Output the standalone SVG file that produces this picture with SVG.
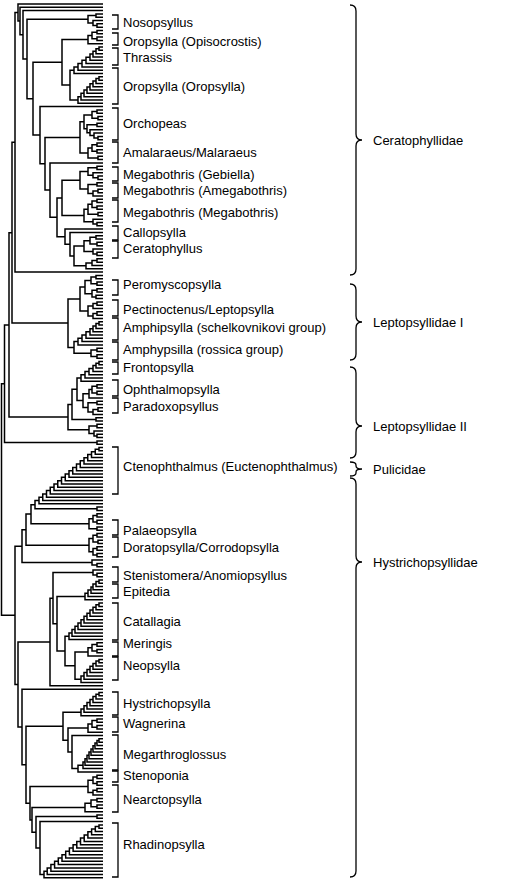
<svg xmlns="http://www.w3.org/2000/svg" width="520" height="881" viewBox="0 0 520 881">
<style>
.t{stroke:#000;stroke-width:1.5;fill:none;vector-effect:non-scaling-stroke}
.b{stroke:#000;stroke-width:1.3;fill:none}
text{font-family:"Liberation Sans",Arial,sans-serif;font-size:13px;fill:#000}
</style>
<rect width="520" height="881" fill="#fff"/>
<g id="connectors" transform="translate(0,4) scale(1,3.31)">
<path class="t" d="M103 3H96V4H103M103 6H97V7H103M103 5H93V6.5H97M96 3.5H88V5.75H93"/>
<path class="t" d="M103 8H97V9H103M103 10H97V11H103M97 8.5H92V10.5H97M92 9.5H88V12H103"/>
<path class="t" d="M103 13H99V14H103M103 15H96V13.5H99M103 16H93V14.25H96M103 17H90V15.1H93M103 18H86V16.05H90M103 19H82V17H86M103 20H78V18H82M103 21H74V19H78"/>
<path class="t" d="M103 22H99V23H103M103 24H96V22.5H99M103 25H93V23.25H96M103 26H90V24.1H93M103 27H87V25.05H90M103 28H84V26H87M103 29H81V27H84M103 30H78V28H81"/>
<path class="t" d="M74 20H70V29H78M88 10.75H62V24.5H70"/>
<path class="t" d="M103 32H97V33H103M103 34H98V35H103M97 32.5H92V34.5H98M103 36H97V37H103M103 40H98V41H103M103 39H94V40.5H98M103 38H90V39.75H94M97 36.5H87V38.9H90M92 33.5H84V37.7H87"/>
<path class="t" d="M103 42H97V43H103M103 44H97V45H103M97 42.5H92V44.5H97M103 46H98V47H103M92 43.5H88V46.5H98M84 35.6H80V45H88"/>
<path class="t" d="M103 49H97V50H103M103 52H98V53H103M103 51H93V52.5H98M97 49.5H88V51.75H93M103 54H97V55H103M103 56H98V57H103M98 56.5H93V58H103M97 54.5H88V57.25H93M88 50.6H80V55.9H88"/>
<path class="t" d="M103 59H97V60H103M103 61H97V62H103M97 59.5H92V61.5H97M103 63H98V64H103M92 60.5H88V63.5H98M103 66H97V67H103M103 65H93V66.5H97M88 62H84V65.75H93M80 53.25H62V63.9H84"/>
<path class="t" d="M103 70H96V71H103M103 72H97V73H103M96 70.5H90V72.5H97M103 75H97V76H103M103 74H93V75.5H97M90 71.5H84V74.75H93M103 77H97V78H103M103 79H92V77.5H97M103 80H86V78.25H92"/>
<path class="t" d="M84 73.1H74V79.1H86M103 69H70V76.1H74M103 68H65V72.55H70M62 58.6H57V70.3H65M103 48H50V64.45H57M80 40.3H45V56.2H50M103 31H40V48.25H45M62 17.6H33V39.6H40M88 4.6H27V28.6H33M103 2H23V16.6H27M103 1H20V9.3H23M103 0H18V5.15H20M18 2.6H15V81H103"/>
<path class="t" d="M103 82H96V83H103M103 84H97V85H103M96 82.5H91V84.5H97M103 86H97V87H103M103 88H96V89H103M97 86.5H92V88.5H96M91 83.5H85V87.5H92"/>
<path class="t" d="M103 90H97V91H103M97 90.5H93V92H103M103 93H97V94H103M97 93.5H93V95H103M93 91.25H88V94.25H93M85 85.5H80V92.75H88"/>
<path class="t" d="M103 96H99V97H103M103 98H96V96.5H99M103 99H93V97.25H96M103 100H90V98.1H93M103 101H86V99.05H90M103 102H82V100H86M103 103H78V101H82M103 104H97V105H103M103 106H97V107H103M97 104.5H91V106.5H97M78 102H74V105.5H91M80 89.1H68V103.75H74"/>
<path class="t" d="M103 108H99V109H103M103 110H96V108.5H99M103 111H93V109.25H96M103 112H89V110.1H93M103 113H85V111.05H89M103 114H81V112H85"/>
<path class="t" d="M103 115H97V116H103M103 117H97V118H103M97 115.5H92V117.5H97M92 116.5H89V119H103M103 120H97V121H103M103 122H98V123H103M98 122.5H93V124H103M97 120.5H88V123.25H93M89 117.75H83V121.9H88M81 113H77V119.8H83"/>
<path class="t" d="M103 125H96V126H103M77 116.4H72V125.5H96M103 127H97V128H103M103 130H97V131H103M103 129H94V130.5H97M97 127.5H89V129.75H94M72 121H68V128.6H89"/>
<path class="t" d="M103 132H97V133H103"/>
<path class="t" d="M15 41.8H12V96.4H68M12 69.1H9V124.8H68M9 96.95H4.5V132.5H97M4.5 114.7H1.5V184.7H15"/>
<path class="t" d="M103 134H99V135H103M103 136H95.25V134.5H99M103 137H91.5V135.25H95.25M103 138H87.75V136.1H91.5M103 139H84V137.05H87.75M103 140H80.25V138H84M103 141H76.5V139H80.25M103 142H72.75V140H76.5M103 143H69V141H72.75M103 144H65.25V142H69M103 145H61.5V143H65.25M103 146H57.75V144H61.5M103 147H54V145H57.75M103 148H50.25V146H54M103 149H46.5V147H50.25M103 150H42.75V148H46.5M103 151H39V149H42.75"/>
<path class="t" d="M103 152H97V153H103M39 150H35V152.5H97M103 154H97V155H103M103 156H97V157H103M97 154.5H93V156.5H97M103 158H97V159H103M93 155.5H89V158.5H97M35 151.25H31V157H89"/>
<path class="t" d="M103 160H97V161H103M103 162H98V163H103M97 160.5H93V162.5H98M103 164H97V165H103M103 166H97V167H103M97 164.5H93V166.5H97M93 161.5H89V165.5H93M31 154.1H26V163.5H89M103 169H97V170H103M103 168H92V169.5H97M26 158.8H22V168.75H92"/>
<path class="t" d="M103 172H97V173H103M103 171H93V172.5H97M103 174H99V175H103M103 176H96V174.5H99M103 177H93V175.25H96M103 178H91V176.1H93M103 179H88V177.05H91M103 180H85V178H88"/>
<path class="t" d="M103 181H99V182H103M103 183H96V181.5H99M103 184H93V182.25H96M103 185H90V183.1H93M103 186H87V184.05H90M103 187H84V185H87M103 188H81V186H84M103 189H78V187H81M103 190H75V188H78M103 191H72V189H75M103 192H69V190H72"/>
<path class="t" d="M103 193H97V194H103M103 195H97V196H103M97 193.5H92V195.5H97M92 194.5H88V197H103M103 198H99V199H103M103 200H96V198.5H99M103 201H93V199.25H96M103 202H90V200.1H93M103 203H87V201.05H90M103 204H84V202H87M103 205H81V203H84"/>
<path class="t" d="M88 195.75H75V204H81M69 191H65V199.9H75M85 179H57V195.45H65M93 171.75H53V187.2H57M53 179.5H50V206H103"/>
<path class="t" d="M103 208H99V209H103M103 210H96V208.5H99M103 211H93V209.25H96M103 212H90V210.1H93M103 213H87V211.05H90M103 214H84V212H87M103 215H81V213H84"/>
<path class="t" d="M103 216H97V217H103M103 218H97V219H103M97 216.5H92V218.5H97M92 217.5H88V220H103"/>
<path class="t" d="M103 222H99V223H103M103 224H97V222.5H99M103 225H95V223.25H97M103 226H93V224.1H95M103 227H91V225.05H93M103 228H89V226H91M103 229H87V227H89M103 230H85V228H87M103 231H83V229H85M83 230H78V232H103M103 221H72V231H78M88 218.75H68V226H72M81 214H63V222.4H68"/>
<path class="t" d="M103 233H97V234H103M103 235H97V236H103M97 233.5H93V235.5H97M103 237H97V238H103M97 237.5H93V239H103M93 234.5H88V238.25H93"/>
<path class="t" d="M103 240H97V241H103M103 242H97V243H103M97 240.5H91V242.5H97M91 241.5H85V244H103M103 245H97V246H103"/>
<path class="t" d="M103 248H99V249H103M103 250H95.3V248.5H99M103 251H91.6V249.25H95.3M103 252H87.9V250.1H91.6M103 253H84.2V251.05H87.9M103 254H80.5V252H84.2M103 255H76.8V253H80.5M103 256H73.1V254H76.8M103 257H69.4V255H73.1M103 258H65.7V256H69.4M103 259H62V257H65.7M103 260H58.3V258H62M103 261H54.6V259H58.3M103 262H50.9V260H54.6M103 263H47.2V261H50.9"/>
<path class="t" d="M47.2 262H44V264H103M103 247H40V263H44M97 245.5H36V255H40M85 242.75H32V250.25H36M88 236.4H30V246.5H32M63 218.2H26V241.45H30M103 207H22V229.8H26M50 192.75H18V218.4H22M22 163.8H15V205.6H18"/>
</g>
<g id="genus-labels">
<g id="nosopsyllus"><path class="b" d="M112 15H118V29H112"/><text x="123" y="26.5">Nosopsyllus</text></g>
<g id="opisocrostis"><path class="b" d="M112 33H118V45H112"/><text x="123" y="45.5">Oropsylla (Opisocrostis)</text></g>
<g id="thrassis"><path class="b" d="M112 48H118V65H112"/><text x="123" y="61.5">Thrassis</text></g>
<g id="oropsylla"><path class="b" d="M112 68H118V104H112"/><text x="123" y="90.5">Oropsylla (Oropsylla)</text></g>
<g id="orchopeas"><path class="b" d="M112 108H118V140H112"/><text x="123" y="127.5">Orchopeas</text></g>
<g id="amalaraeus"><path class="b" d="M112 142H118V163H112"/><text x="123" y="156.5">Amalaraeus/Malaraeus</text></g>
<g id="gebiella"><path class="b" d="M112 167H118V181H112"/><text x="123" y="178.5">Megabothris (Gebiella)</text></g>
<g id="amegabothris"><path class="b" d="M112 183H118V198H112"/><text x="123" y="194.5">Megabothris (Amegabothris)</text></g>
<g id="megabothris"><path class="b" d="M112 200H118V222H112"/><text x="123" y="216.5">Megabothris (Megabothris)</text></g>
<g id="callopsylla"><path class="b" d="M112 226H118V240H112"/><text x="123" y="236.5">Callopsylla</text></g>
<g id="ceratophyllus"><path class="b" d="M112 241H118V258H112"/><text x="123" y="252.5">Ceratophyllus</text></g>
<g id="peromyscopsylla"><path class="b" d="M112 280H118V295H112"/><text x="123" y="288.5">Peromyscopsylla</text></g>
<g id="pectinoctenus"><path class="b" d="M112 300H118V316H112"/><text x="123" y="313.5">Pectinoctenus/Leptopsylla</text></g>
<g id="amphipsylla-s"><path class="b" d="M112 318H118V340H112"/><text x="123" y="331.5">Amphipsylla (schelkovnikovi group)</text></g>
<g id="amphipsylla-r"><path class="b" d="M112 342H118V360H112"/><text x="123" y="353.5">Amphypsilla (rossica group)</text></g>
<g id="frontopsylla"><path class="b" d="M112 362H118V374H112"/><text x="123" y="371.5">Frontopsylla</text></g>
<g id="ophthalmopsylla"><path class="b" d="M112 380H118V396H112"/><text x="123" y="393.5">Ophthalmopsylla</text></g>
<g id="paradoxopsyllus"><path class="b" d="M112 398H118V413H112"/><text x="123" y="410.5">Paradoxopsyllus</text></g>
<g id="ctenophthalmus"><path class="b" d="M112 447H118V494H112"/><text x="123" y="470.5">Ctenophthalmus (Euctenophthalmus)</text></g>
<g id="palaeopsylla"><path class="b" d="M112 520H118V535H112"/><text x="123" y="534.5">Palaeopsylla</text></g>
<g id="doratopsylla"><path class="b" d="M112 537H118V557H112"/><text x="123" y="551.5">Doratopsylla/Corrodopsylla</text></g>
<g id="stenistomera"><path class="b" d="M112 567H118V582H112"/><text x="123" y="579.5">Stenistomera/Anomiopsyllus</text></g>
<g id="epitedia"><path class="b" d="M112 584H118V598H112"/><text x="123" y="595.5">Epitedia</text></g>
<g id="catallagia"><path class="b" d="M112 603H118V640H112"/><text x="123" y="625.5">Catallagia</text></g>
<g id="meringis"><path class="b" d="M112 642H118V656H112"/><text x="123" y="647.5">Meringis</text></g>
<g id="neopsylla"><path class="b" d="M112 657H118V680H112"/><text x="123" y="669.5">Neopsylla</text></g>
<g id="hystrichopsylla"><path class="b" d="M112 692H118V715H112"/><text x="123" y="707.5">Hystrichopsylla</text></g>
<g id="wagnerina"><path class="b" d="M112 717H118V732H112"/><text x="123" y="727.5">Wagnerina</text></g>
<g id="megarthroglossus"><path class="b" d="M112 735H118V770H112"/><text x="123" y="758.5">Megarthroglossus</text></g>
<g id="stenoponia"><path class="b" d="M112 771H118V782H112"/><text x="123" y="779.5">Stenoponia</text></g>
<g id="nearctopsylla"><path class="b" d="M112 785H118V812H112"/><text x="123" y="803.5">Nearctopsylla</text></g>
<g id="rhadinopsylla"><path class="b" d="M112 823H118V877H112"/><text x="123" y="848.5">Rhadinopsylla</text></g>
</g>
<g id="family-labels">
<g id="ceratophyllidae"><path class="b" d="M350 5Q356 5 356 11V134Q356 140 362 140Q356 140 356 146V269Q356 275 350 275"/><text x="373" y="144.5">Ceratophyllidae</text></g>
<g id="leptopsyllidae1"><path class="b" d="M350 284Q356 284 356 290V316Q356 322 362 322Q356 322 356 328V354Q356 360 350 360"/><text x="373" y="326.5">Leptopsyllidae I</text></g>
<g id="leptopsyllidae2"><path class="b" d="M350 367Q356 367 356 373V420Q356 426 362 426Q356 426 356 432V452Q356 458 350 458"/><text x="373" y="430.5">Leptopsyllidae II</text></g>
<g id="pulicidae"><path class="b" d="M350 462Q356 462 356 465V466Q356 469 362 469Q356 469 356 472V473Q356 476 350 476"/><text x="373" y="473.5">Pulicidae</text></g>
<g id="hystrichopsyllidae"><path class="b" d="M350 478Q356 478 356 484V556Q356 562 362 562Q356 562 356 568V871Q356 877 350 877"/><text x="373" y="566.5">Hystrichopsyllidae</text></g>
</g>
</svg>
